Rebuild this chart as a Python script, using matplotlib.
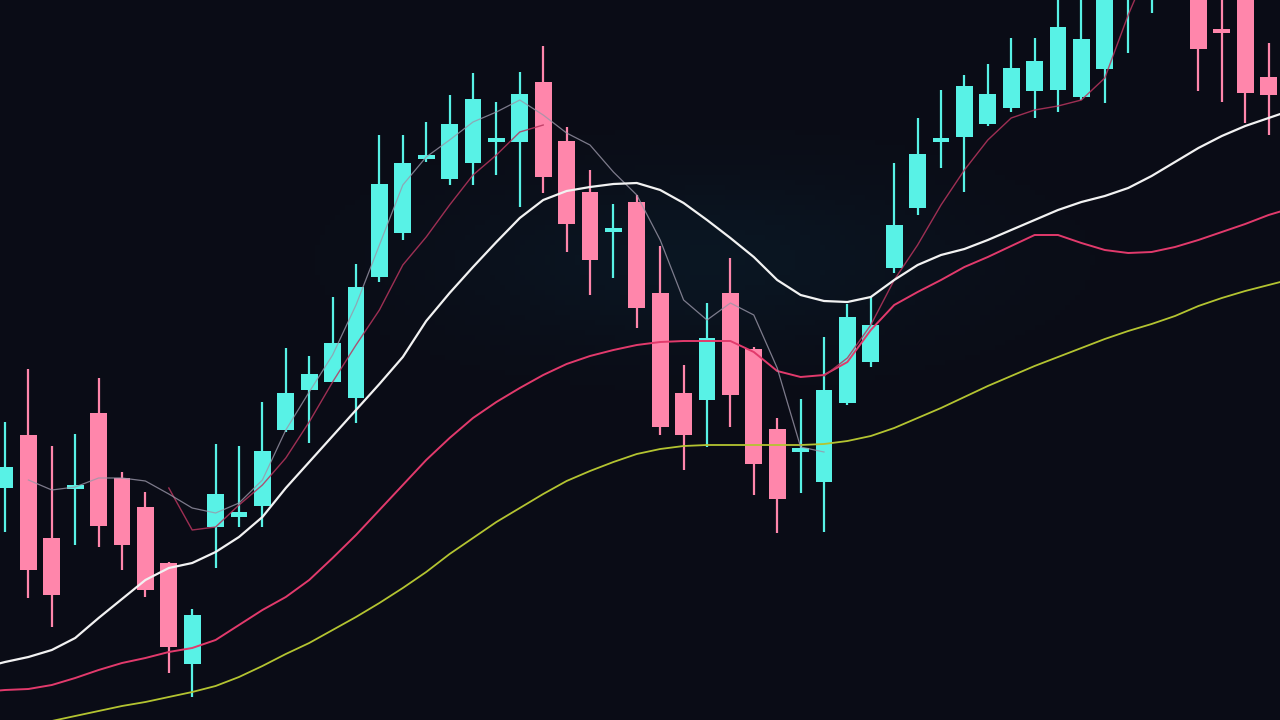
import numpy as np
import matplotlib
matplotlib.use("Agg")
import matplotlib.pyplot as plt
from matplotlib.colors import LinearSegmentedColormap

# candle data (price units, one value per bar)
opens = [232, 285, 182, 231, 307, 242, 213, 157, 56, 193, 203, 214, 290, 330, 338, 322, 443, 487, 561, 541,
         557, 578, 578, 638, 579, 528, 488, 518, 427, 327, 320, 427, 371, 291, 268, 238, 317, 358, 452, 512,
         578, 583, 596, 612, 629, 630, 623, 651, 720, 730, 745, 760, 691, 740, 643]
highs = [298, 351, 274, 286, 342, 248, 228, 158, 111, 276, 274, 318, 372, 364, 423, 456, 585, 585, 598, 625,
         647, 618, 648, 674, 593, 550, 516, 525, 474, 355, 417, 462, 373, 302, 321, 383, 416, 423, 557, 602,
         630, 645, 656, 682, 682, 725, 725, 760, 760, 790, 800, 790, 730, 760, 677]
lows = [188, 122, 93, 175, 173, 150, 123, 47, 23, 152, 193, 193, 288, 277, 338, 297, 438, 480, 558, 535,
        535, 545, 513, 527, 468, 425, 442, 392, 285, 250, 273, 293, 225, 187, 227, 188, 315, 353, 447, 505,
        552, 528, 594, 608, 602, 608, 620, 617, 667, 707, 728, 629, 618, 597, 585]
closes = [253, 150, 125, 235, 194, 175, 130, 73, 105, 226, 208, 269, 327, 346, 377, 433, 536, 557, 565, 596,
          621, 582, 626, 543, 496, 460, 492, 412, 293, 285, 382, 325, 256, 221, 272, 330, 403, 395, 495, 566,
          582, 634, 626, 652, 659, 693, 681, 730, 724, 760, 775, 671, 687, 627, 625]

# moving averages, bar index -1 .. 55
ma_idx = list(range(-1, 56))
nan = np.nan
ma_slow = [52, 58, 63, 70, 82, 102, 121, 140, 152, 157, 168, 183, 203, 232, 258, 284, 310, 336, 363, 399,
           427, 453, 478, 502, 520, 529, 533, 536, 537, 530, 517, 500, 482, 463, 440, 425, 419, 418, 423, 440,
           455, 465, 471, 480, 490, 500, 510, 518, 524, 532, 544, 558, 572, 584, 594, 602, 610]
ma_mid = [28, 30, 31, 35, 42, 50, 57, 62, 68, 72, 80, 95, 110, 123, 140, 162, 185, 210, 235, 260,
          282, 302, 318, 332, 345, 356, 364, 370, 375, 378, 379, 379, 379, 368, 349, 343, 345, 358, 390, 415,
          428, 440, 453, 463, 474, 485, 485, 477, 470, 467, 468, 473, 480, 488, 496, 505, 512]
ma_long = [-15, -10, -5, -1, 4, 9, 14, 18, 23, 28, 34, 43, 54, 66, 77, 90, 103, 117, 132, 148,
           166, 182, 198, 212, 226, 239, 249, 258, 266, 271, 274, 275, 275, 275, 275, 275, 276, 279, 284, 292,
           302, 312, 323, 334, 344, 354, 363, 372, 381, 389, 396, 404, 414, 422, 429, 435, 441]
ma_fast = [nan, nan, nan, nan, nan, nan, nan, nan, 232, 190, 193, 215, 235, 262, 298, 338, 375, 410, 455, 483,
           515, 545, 565, 588, 595, nan, nan, nan, nan, nan, nan, nan, nan, nan, nan, nan, 344, 362, 395, 440,
           475, 515, 550, 580, 602, 610, 614, 620, 642, 705, 760, nan, nan, nan, nan, nan, nan]
ma_quick = [nan, nan, 240, 230, 233, 242, 242, 239, 226, 212, 207, 217, 240, 290, 328, 365, 415, 475, 535, 563,
            580, 598, 608, 620, 605, 587, 575, 548, 525, 480, 420, 400, 417, 405, 352, 273, 268, nan, nan, nan,
            nan, nan, nan, nan, nan, nan, nan, nan, nan, nan, nan, nan, nan, nan, nan, nan, nan]

BG = '#0a0c16'
UP = '#58f2e6'
DOWN = '#ff86ab'

fig = plt.figure(figsize=(12.8, 7.2), dpi=100, facecolor=BG)
ax = fig.add_axes([0, 0, 1, 1])
ax.set_facecolor(BG)
ax.set_axis_off()

# faint teal glow behind the middle of the chart
gx, gy = np.meshgrid(np.linspace(0, 1, 256), np.linspace(0, 1, 144))
glow = np.exp(-(((gx - 0.55) / 0.2) ** 2 + ((gy - 0.64) / 0.12) ** 2))
glow_cmap = LinearSegmentedColormap.from_list('glow', [(0.05, 0.3, 0.4, 0.0), (0.05, 0.3, 0.4, 0.16)])
ax.imshow(glow, extent=[0, 1, 0, 1], transform=ax.transAxes, cmap=glow_cmap,
          origin='lower', aspect='auto', zorder=0)

x = np.arange(len(opens))
o = np.array(opens)
c = np.array(closes)
colors = [UP if cc >= oo else DOWN for oo, cc in zip(o, c)]

ax.vlines(x, lows, highs, colors=colors, linewidth=1.6, zorder=2)
ax.bar(x, np.abs(c - o), bottom=np.minimum(o, c), width=0.72, color=colors, zorder=3)

ax.plot(ma_idx, ma_long, color='#b4c431', linewidth=1.3, zorder=4)
ax.plot(ma_idx, ma_mid, color='#e23a6c', linewidth=1.4, zorder=4)
ax.plot(ma_idx, ma_fast, color='#b8355e', linewidth=1.0, alpha=0.85, zorder=4)
ax.plot(ma_idx, ma_quick, color='#9a96a8', linewidth=0.9, alpha=0.8, zorder=4)
ax.plot(ma_idx, ma_slow, color='#f2f2f2', linewidth=1.6, zorder=5)

ax.set_xlim(-5 / 23.4, 1275 / 23.4)
ax.set_ylim(0, 720)

fig.savefig('out.png', dpi=100, facecolor=BG)
